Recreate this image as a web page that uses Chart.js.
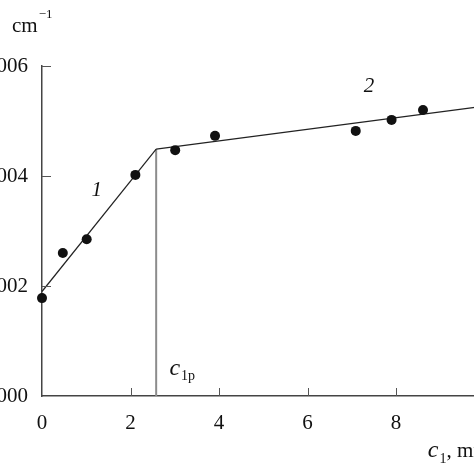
<!DOCTYPE html>
<html>
<head>
<meta charset="utf-8">
<script src="https://cdn.jsdelivr.net/npm/chart.js@4"></script>
<style>
  html, body { margin: 0; padding: 0; background: #fff; overflow: hidden; }
  body { width: 474px; height: 474px; position: relative; }
  .wrap { position: absolute; left: -30px; top: 0; width: 540px; height: 474px; }
</style>
</head>
<body>
<div class="wrap"><canvas id="chart"></canvas></div>
<script>
// measured points
const concX = [0, 0.47, 1.01, 2.11, 3.01, 3.91, 7.09, 7.9, 8.61];
const kappa = [0.00178, 0.0026, 0.00285, 0.00402, 0.00447, 0.00473, 0.00482, 0.00502, 0.0052];

// fitted lines 1 and 2, and the break point c1p
const line1X = [0, 2.58];
const line1Y = [0.0019, 0.00449];
const line2X = [2.58, 10];
const line2Y = [0.00449, 0.00527];
const breakX = [2.58, 2.58];
const breakY = [0, 0.00449];

const xTicks = [0, 2, 4, 6, 8, 10];
const yTicks = [0, 0.002, 0.004, 0.006];

const serif = "'Liberation Serif', 'DejaVu Serif', serif";
const toPts = (xs, ys) => xs.map((x, i) => ({ x: x, y: ys[i] }));

const extras = {
  id: "extras",
  afterDraw(chart) {
    const { ctx, chartArea, scales } = chart;
    const x = scales.x, y = scales.y;
    ctx.save();
    // inward tick marks
    ctx.strokeStyle = "#555";
    ctx.lineWidth = 1;
    ctx.beginPath();
    yTicks.slice(1).forEach((v) => {
      const py = Math.round(y.getPixelForValue(v)) + 0.5;
      ctx.moveTo(chartArea.left, py);
      ctx.lineTo(chartArea.left + 9, py);
    });
    xTicks.slice(1).forEach((v) => {
      const px = Math.round(x.getPixelForValue(v)) + 0.5;
      ctx.moveTo(px, chartArea.bottom);
      ctx.lineTo(px, chartArea.bottom - 8);
    });
    ctx.stroke();

    ctx.fillStyle = "#111";
    ctx.textBaseline = "middle";
    ctx.textAlign = "center";
    ctx.font = "italic 21px " + serif;
    ctx.fillText("1", x.getPixelForValue(1.24), y.getPixelForValue(0.003745));
    ctx.fillText("2", x.getPixelForValue(7.39), y.getPixelForValue(0.00563));

    // c1p label
    ctx.textAlign = "left";
    ctx.textBaseline = "alphabetic";
    let px = x.getPixelForValue(2.88);
    let py = y.getPixelForValue(0.00038);
    ctx.font = "italic 24px " + serif;
    ctx.fillText("c", px, py);
    px += ctx.measureText("c").width + 1;
    ctx.font = "14px " + serif;
    ctx.fillText("1p", px, py + 5);

    // y unit
    ctx.font = "21px " + serif;
    px = chartArea.left - 30;
    py = chartArea.top - 34;
    ctx.fillText("cm", px, py);
    px += ctx.measureText("cm").width + 1;
    ctx.font = "13px " + serif;
    ctx.fillText("\u22121", px, py - 14);

    // x title
    px = x.getPixelForValue(8.72);
    py = chartArea.bottom + 61;
    ctx.font = "italic 24px " + serif;
    ctx.fillText("c", px, py);
    px += ctx.measureText("c").width + 1;
    ctx.font = "14px " + serif;
    ctx.fillText("1", px, py + 6);
    px += ctx.measureText("1").width;
    ctx.font = "21px " + serif;
    ctx.fillText(", mmol/l", px, py);
    ctx.restore();
  },
};

const data = {
  datasets: [
    {
      label: "points",
      data: toPts(concX, kappa),
      showLine: false,
      pointRadius: 5,
      pointBackgroundColor: "#111",
      pointBorderColor: "#111",
      pointBorderWidth: 0,
    },
    {
      label: "1",
      data: toPts(line1X, line1Y),
      showLine: true,
      pointRadius: 0,
      borderColor: "#222",
      borderWidth: 1.2,
    },
    {
      label: "2",
      data: toPts(line2X, line2Y),
      showLine: true,
      pointRadius: 0,
      borderColor: "#222",
      borderWidth: 1.2,
    },
    {
      label: "c1p",
      data: toPts(breakX, breakY),
      showLine: true,
      pointRadius: 0,
      borderColor: "#8c8c8c",
      borderWidth: 2,
    },
  ],
};

const config = {
  type: "scatter",
  data: data,
  plugins: [extras],
  options: {
    responsive: true,
    maintainAspectRatio: false,
    animation: false,
    clip: false,
    layout: { padding: { top: 66, right: 23, left: 0, bottom: 0 } },
    plugins: {
      legend: { display: false },
      tooltip: { enabled: false },
    },
    scales: {
      x: {
        type: "linear",
        min: 0,
        max: 10,
        afterFit: (s) => { s.height = 78; },
        afterBuildTicks: (s) => { s.ticks = xTicks.map((v) => ({ value: v })); },
        grid: { display: false, drawTicks: false },
        border: { display: true, color: "#444", width: 1.5 },
        ticks: {
          padding: 15,
          color: "#111",
          font: { family: serif, size: 21 },
          maxRotation: 0,
        },
      },
      y: {
        type: "linear",
        min: 0,
        max: 0.006,
        afterFit: (s) => { s.width = 72; },
        afterBuildTicks: (s) => { s.ticks = yTicks.map((v) => ({ value: v })); },
        grid: { display: false, drawTicks: false },
        border: { display: true, color: "#444", width: 1.5 },
        ticks: {
          padding: 14,
          color: "#111",
          font: { family: serif, size: 21 },
          callback: (v) => v.toFixed(3),
        },
      },
    },
  },
};

const myChart = new Chart(document.getElementById("chart"), config);
</script>
</body>
</html>
